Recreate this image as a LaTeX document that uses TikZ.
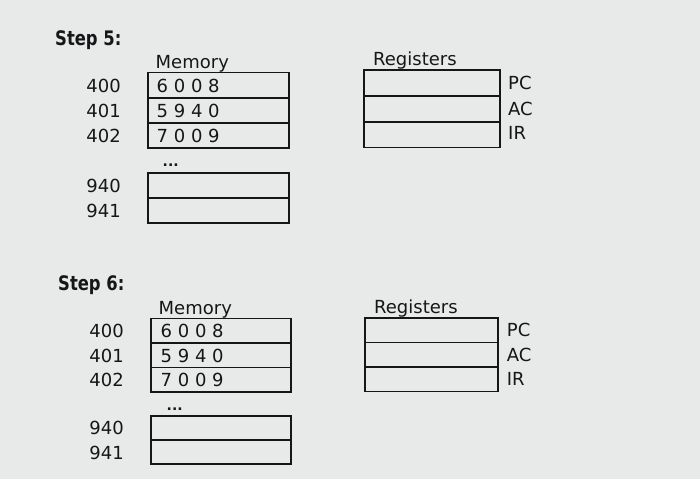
\documentclass[tikz,border=0pt]{standalone}
\usepackage{fontspec}
\setmainfont{DejaVu Sans}
\newfontfamily\stepfont{DejaVu Sans}[FakeStretch=0.82]
\definecolor{bg}{RGB}{232,234,233}
\definecolor{ink}{RGB}{22,22,24}
\begin{document}
\begin{tikzpicture}[x=1pt,y=-1pt,
  txt/.style={inner sep=0pt, font=\fontsize{18}{20}\selectfont, text=ink},
  dots/.style={inner sep=0pt, font=\bfseries\fontsize{14}{16}\selectfont, text=ink},
  steplbl/.style={inner sep=0pt, font=\stepfont\bfseries\fontsize{20}{22}\selectfont, text=ink},
  cellbox/.style={draw=ink, line width=1.6pt, inner sep=0pt, anchor=north west},
  memcell/.style={cellbox, minimum width=141pt, minimum height=25pt},
  regcell/.style={cellbox, minimum width=135pt, minimum height=25.6pt},
]
\fill[bg] (0,0) rectangle (700,479);
\useasboundingbox (0,0) rectangle (700,479);

% ---------------- Step 5 ----------------
\node[steplbl, anchor=base west] (s5) at (55,45) {Step 5:};
\node[txt, anchor=base west] (mem5) at (155.5,68) {Memory};
\node[memcell, minimum height=25.2pt] (m5a) at (147,71.7) {};
\node[memcell, minimum height=25.2pt] (m5b) at (147,96.9) {};
\node[memcell, minimum height=25.2pt] (m5c) at (147,122.1) {};
\node[memcell] (m5d) at (147,172.3) {};
\node[memcell] (m5e) at (147,197.3) {};

\node[txt, anchor=base east] (a5a) at (121,92.5) {400};
\node[txt, anchor=base east] (a5b) at (121,117.3) {401};
\node[txt, anchor=base east] (a5c) at (121,142) {402};
\node[txt, anchor=base east] (a5d) at (121,192.6) {940};
\node[txt, anchor=base east] (a5e) at (121,217.3) {941};

\node[txt, anchor=base west] (v5a) at (156.5,92.5) {6 0 0 8};
\node[txt, anchor=base west] (v5b) at (156.5,117.3) {5 9 4 0};
\node[txt, anchor=base west] (v5c) at (156.5,142) {7 0 0 9};
\node[dots, anchor=base west] (d5) at (162.5,166.5) {...};

\node[txt, anchor=base west] (reg5) at (373,65) {Registers};
\node[regcell, minimum width=135.7pt, minimum height=25.8pt] (r5a) at (363.3,69.3) {};
\node[regcell, minimum width=135.7pt, minimum height=25.8pt] (r5b) at (363.3,95.1) {};
\node[regcell, minimum width=135.7pt, minimum height=25.8pt] (r5c) at (363.3,120.9) {};
\node[txt, anchor=base west] (pc5) at (508,89.3) {PC};
\node[txt, anchor=base west] (ac5) at (508,115) {AC};
\node[txt, anchor=base west] (ir5) at (508,139.3) {IR};

% ---------------- Step 6 ----------------
\node[steplbl, anchor=base west] (s6) at (58,290) {Step 6:};
\node[txt, anchor=base west] (mem6) at (158.5,314.3) {Memory};
\node[memcell, minimum width=140pt, minimum height=24.4pt] (m6a) at (150,317.7) {};
\node[memcell, minimum width=140pt, minimum height=24.4pt] (m6b) at (150,342.1) {};
\node[memcell, minimum width=140pt, minimum height=24.5pt] (m6c) at (150,366.5) {};
\node[memcell, minimum width=140pt, minimum height=24.2pt] (m6d) at (150,415) {};
\node[memcell, minimum width=140pt, minimum height=24.1pt] (m6e) at (150,439.2) {};

\node[txt, anchor=base east] (a6a) at (124,337.7) {400};
\node[txt, anchor=base east] (a6b) at (124,362.3) {401};
\node[txt, anchor=base east] (a6c) at (124,386.7) {402};
\node[txt, anchor=base east] (a6d) at (124,434.3) {940};
\node[txt, anchor=base east] (a6e) at (124,459.3) {941};

\node[txt, anchor=base west] (v6a) at (160.5,337.7) {6 0 0 8};
\node[txt, anchor=base west] (v6b) at (160.5,362.3) {5 9 4 0};
\node[txt, anchor=base west] (v6c) at (160.5,386.7) {7 0 0 9};
\node[dots, anchor=base west] (d6) at (166.5,410.5) {...};

\node[txt, anchor=base west] (reg6) at (374,313.3) {Registers};
\node[regcell, minimum width=133.3pt, minimum height=24.4pt] (r6a) at (364,317.3) {};
\node[regcell, minimum width=133.3pt, minimum height=24.4pt] (r6b) at (364,341.7) {};
\node[regcell, minimum width=133.3pt, minimum height=24.6pt] (r6c) at (364,366.1) {};
\node[txt, anchor=base west] (pc6) at (506.7,336.7) {PC};
\node[txt, anchor=base west] (ac6) at (506.7,361.7) {AC};
\node[txt, anchor=base west] (ir6) at (506.7,385) {IR};
\end{tikzpicture}
\end{document}
